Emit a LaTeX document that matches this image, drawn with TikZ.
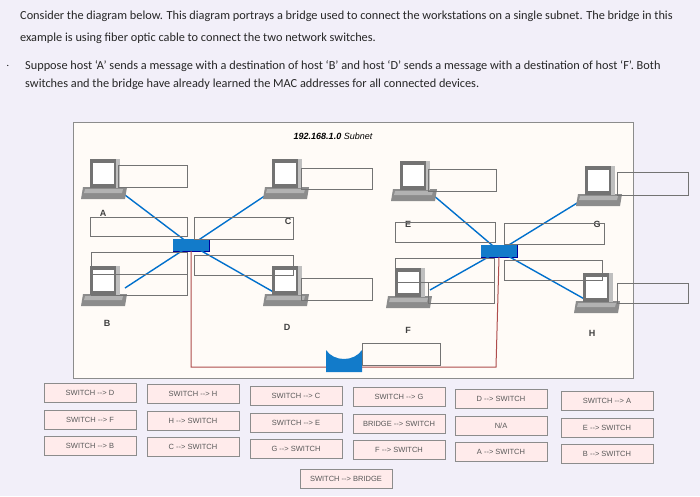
\documentclass[tikz,border=0pt]{standalone}
\usepackage{fontspec}
\setmainfont{Carlito}
\newfontfamily\arial{Liberation Sans}
\newcommand{\ar}{{-}{-}>}
\begin{document}
\begin{tikzpicture}[x=1pt,y=-1pt,
  ebox/.style={draw=black!55,line width=0.4pt},
  lbl/.style={draw=black!45,fill=white!92!red,minimum width=92pt,minimum height=19pt,font=\arial\fontsize{7.5}{8}\selectfont,text=black!65,inner sep=1pt},
  cable/.style={draw=blue!45!cyan!80!black,line width=1.4pt},
  host/.style={font=\arial\bfseries\fontsize{9}{10}\selectfont,text=black!75},
  pc/.pic={
    \fill[black!45] (-22,4) -- (22,4) -- (20,16) -- (-24,16) -- cycle;
    \fill[black!30] (-20,6) -- (18,6) -- (17,10) -- (-21,10) -- cycle;
    \fill[black!55] (-15,-24) rectangle (15,5);
    \fill[black!25] (11,-24) rectangle (15,5);
    \fill[white] (-12,-20) rectangle (9,1);
  }]
\fill[cyan!8!blue!5!white] (0,0) rectangle (700,496);
\useasboundingbox (0,0) rectangle (700,496);
\node[anchor=north west,align=left,font=\fontsize{12.3}{22}\selectfont,text=black!85,inner sep=0pt] (p1) at (20,11)
 {Consider the diagram below. This diagram portrays a bridge used to connect the workstations on a single subnet. The bridge in this\\ example is using fiber optic cable to connect the two network switches.};
\node[anchor=north west,align=left,font=\fontsize{12.3}{18}\selectfont,text=black!85,inner sep=0pt] (p2) at (25,60)
 {Suppose host `A' sends a message with a destination of host `B' and host `D' sends a message with a destination of host `F'. Both\\ switches and the bridge have already learned the MAC addresses for all connected devices.};
\node (dot) at (8,66) {.};
% panel
\filldraw[fill=orange!3!white,draw=black!45] (73,122) rectangle (633,378);
\node[font=\arial\bfseries\itshape\fontsize{9}{10}\selectfont] (title) at (333,136) {192.168.1.0 \textmd{Subnet}};
% switches, bridge
\node[fill=cyan!60!blue,draw=blue!60!black,minimum width=36pt,minimum height=12pt,inner sep=0pt] (s1) at (191,245) {};
\node[fill=cyan!60!blue,draw=blue!60!black,minimum width=36pt,minimum height=12pt,inner sep=0pt] (s2) at (499,251) {};
\draw[red!55!black!70,line width=1pt] (s1.south) |- (496,367) coordinate (rr) -- (s2.south);
\fill[cyan!60!blue] (326,350) .. controls (334,362) and (354,362) .. (362,350) -- (362,372) -- (326,372) -- cycle;
\node[minimum width=36pt,minimum height=20pt,inner sep=0pt] (br) at (344,362) {};
% computers
\foreach \n/\x/\y in {A/105/183,B/105/290,C/287/183,D/287/290,E/415/185,F/410/292,G/600/190,H/598/297}{
  \node[minimum size=40pt,inner sep=0pt] (\n) at (\x,\y) {};
}
\draw[cable] (A.center)++(20,12) -- (s1.center);
\draw[cable] (B.center)++(20,-2) -- (s1.center);
\draw[cable] (C.center)++(-18,10) -- (s1.center);
\draw[cable] (D.center)++(-10,4) -- (s1.center);
\draw[cable] (E.center)++(18,10) -- (s2.center);
\draw[cable] (F.center)++(20,-2) -- (s2.center);
\draw[cable] (G.center)++(-18,10) -- (s2.center);
\draw[cable] (H.center)++(-10,4) -- (s2.center);
\foreach \n in {A,B,C,D,E,F,G,H} \pic at (\n.center) {pc};
\fill[cyan!60!blue] (s1.north west) rectangle (s1.south east);
\fill[cyan!60!blue] (s2.north west) rectangle (s2.south east);
\node[host] (la) at (103,213) {A};
\node[host] (lb) at (107,323) {B};
\node[host] (lc) at (288,221) {C};
\node[host] (ld) at (287,327) {D};
\node[host] (le) at (408,224) {E};
\node[host] (lf) at (408,330) {F};
\node[host] (lg) at (597,224) {G};
\node[host] (lh) at (592,333) {H};
% empty answer boxes
\foreach \a/\b/\c/\d in {118/165/187/187, 301/168/372/189, 428/169/496/191, 617/172/688/195,
  90/217/187/236, 194/217/293/239, 395/222/495/242, 504/223/604/244,
  91/252/187/274, 91/274/187/295, 194/255/293/275, 301/278/372/300,
  395/258/494/282, 428/282/494/303, 504/260/602/280, 617/283/688/303, 362/343/440/365}
  \draw[ebox] (\a,\b) rectangle (\c,\d);
% label tiles
\foreach \t/\x/\y [count=\i] in {{SWITCH \ar{} D}/90/393, {SWITCH \ar{} H}/193/394, {SWITCH \ar{} C}/296/396, {SWITCH \ar{} G}/399/397, {D \ar{} SWITCH}/501/399, {SWITCH \ar{} A}/607/401,
  {SWITCH \ar{} F}/90/420, {H \ar{} SWITCH}/193/421, {SWITCH \ar{} E}/296/423, {BRIDGE \ar{} SWITCH}/399/424, {N/A}/501/426, {E \ar{} SWITCH}/607/428,
  {SWITCH \ar{} B}/90/446, {C \ar{} SWITCH}/193/447, {G \ar{} SWITCH}/296/449, {F \ar{} SWITCH}/399/450, {A \ar{} SWITCH}/501/452, {B \ar{} SWITCH}/607/454}
  \node[lbl] (t\i) at (\x,\y) {\t};
\node[lbl] (t19) at (346,479) {SWITCH \ar{} BRIDGE};
\end{tikzpicture}
\end{document}
